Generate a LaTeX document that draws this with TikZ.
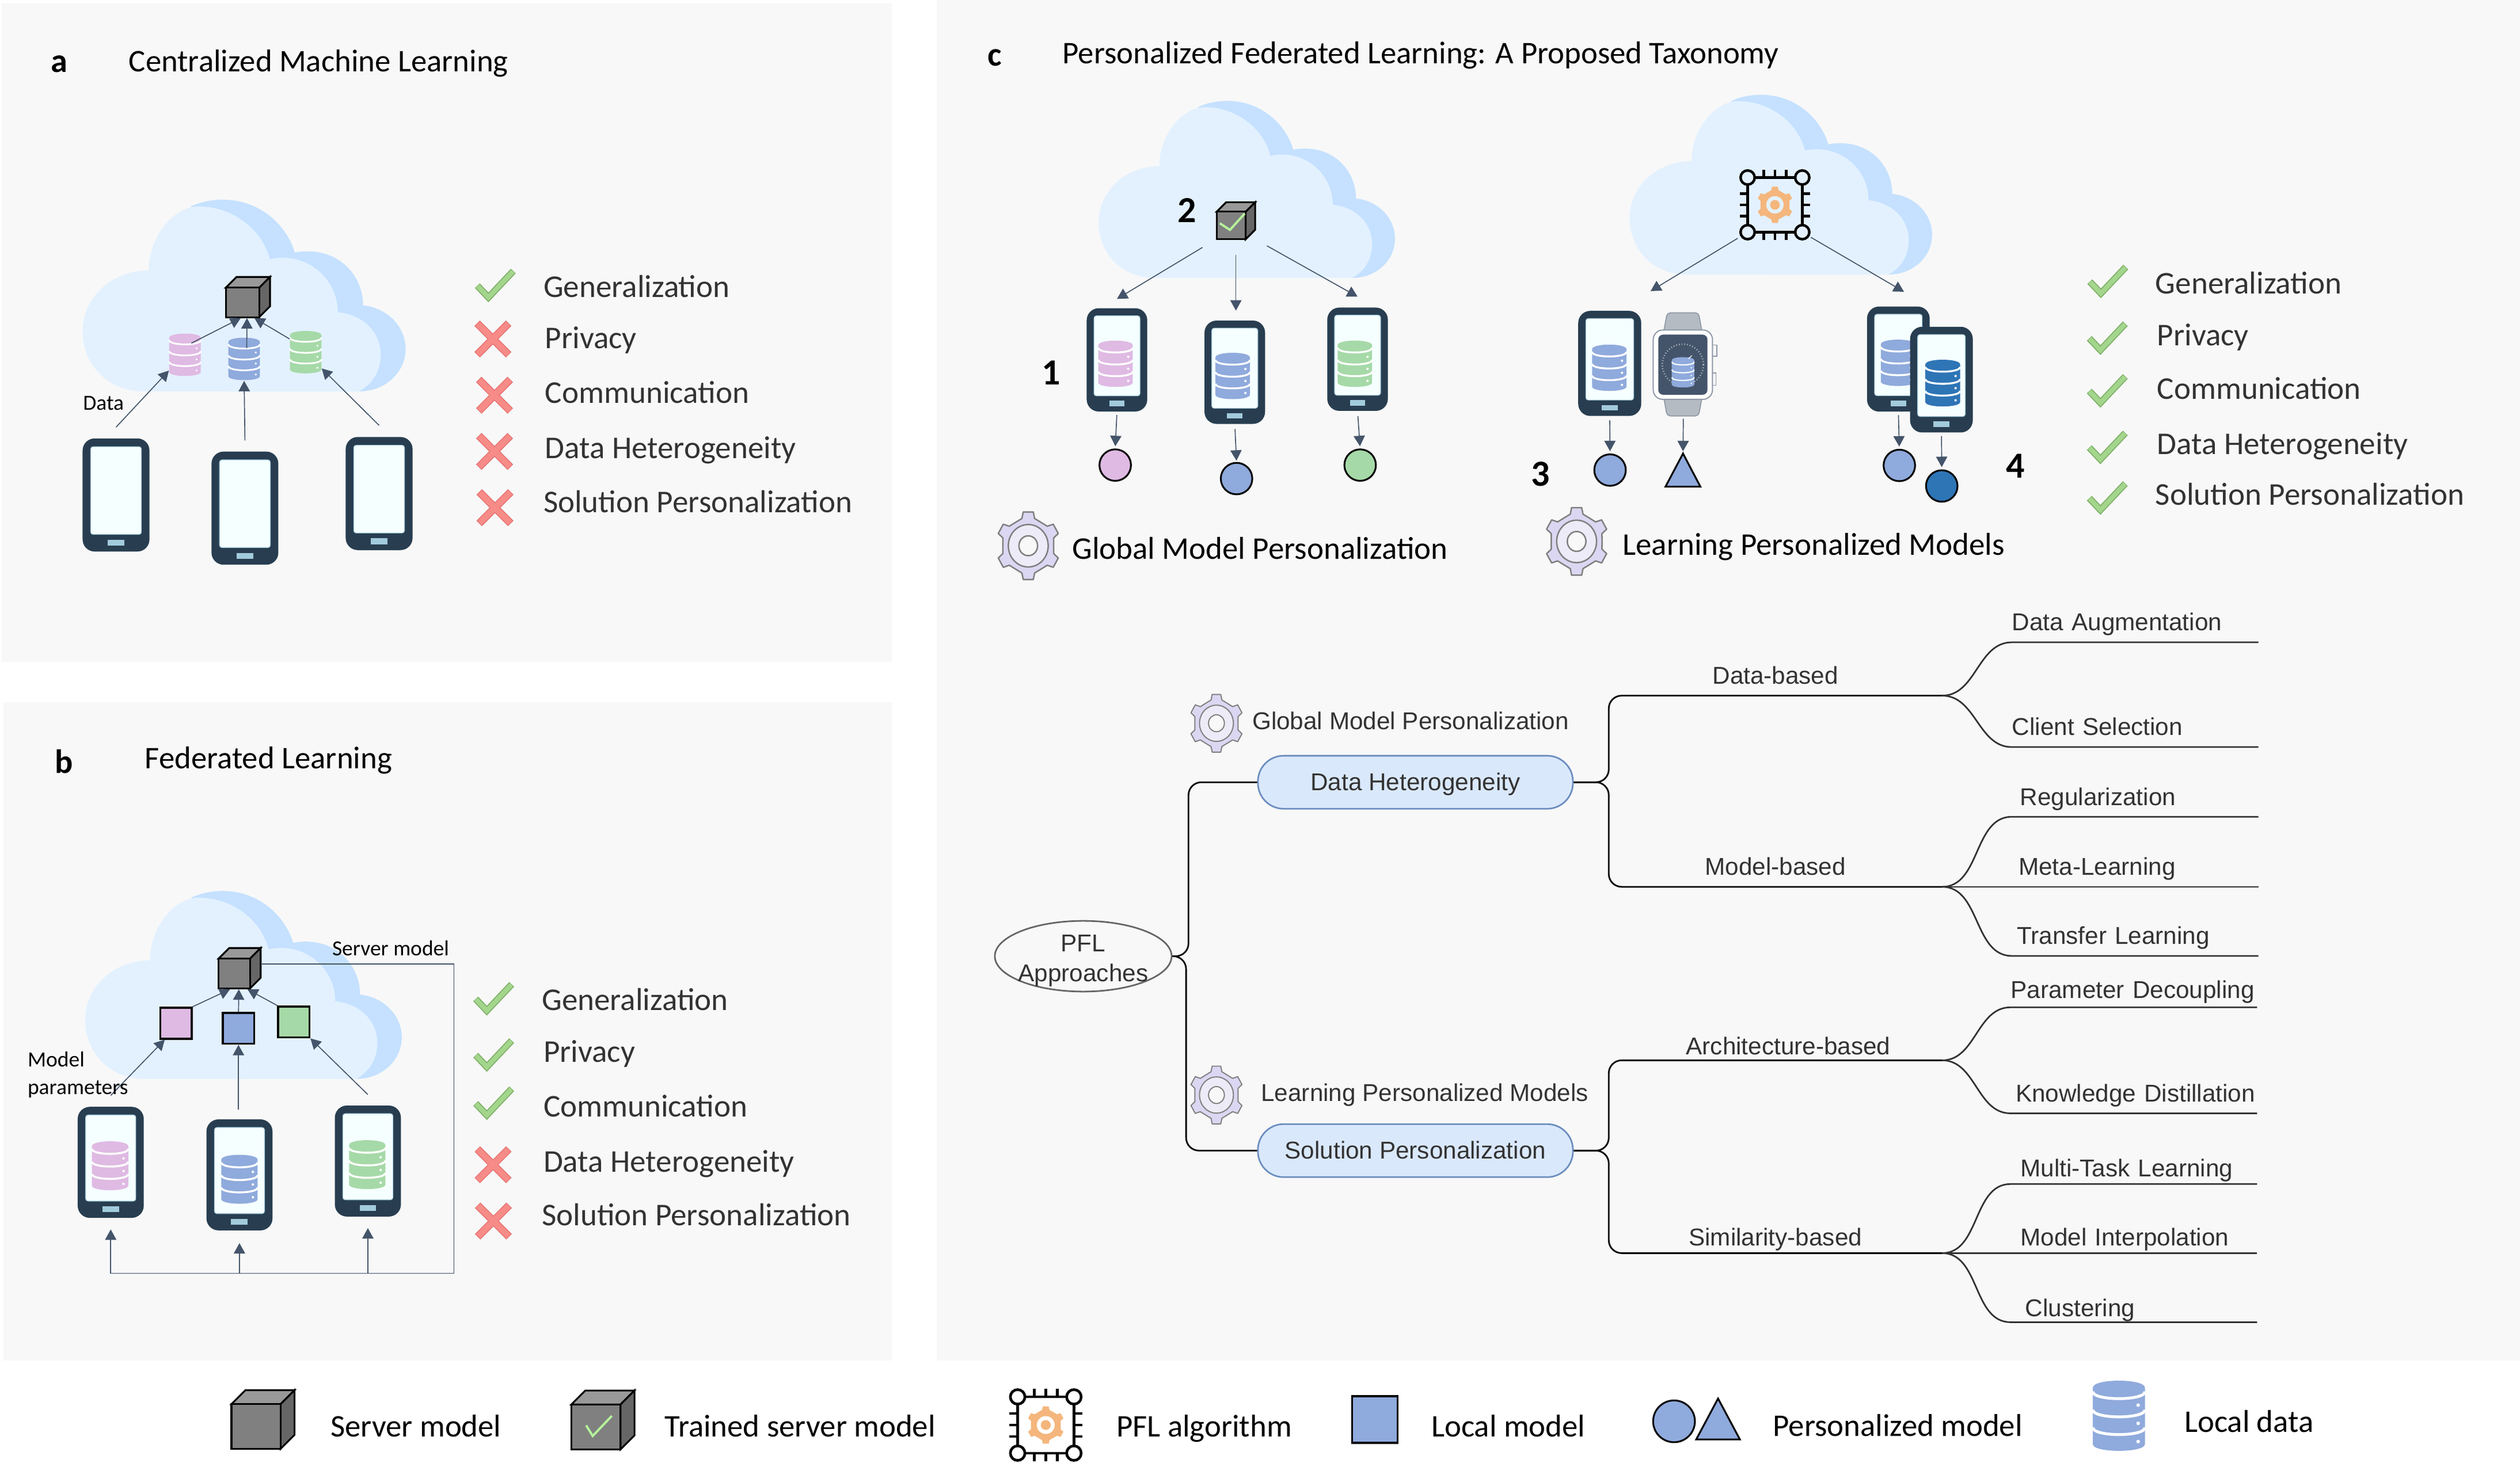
\documentclass[tikz,border=0pt]{standalone}
\usepackage{fontspec}
\setmainfont{Carlito}
\newfontfamily\treefont{Liberation Sans}
\usetikzlibrary{arrows.meta}
\usetikzlibrary{shapes.geometric}

\definecolor{panelbg}{HTML}{F8F8F8}
\definecolor{cloudfront}{HTML}{E3F1FF}
\definecolor{cloudback}{HTML}{C5E1FF}
\definecolor{phonedark}{HTML}{283E50}
\definecolor{phonescreen}{HTML}{F5FFFF}
\definecolor{phonebtn}{HTML}{A2CBDC}
\definecolor{flowcol}{HTML}{44546A}
\definecolor{pinkm}{HTML}{DFBAE3}
\definecolor{bluem}{HTML}{8FAADC}
\definecolor{greenm}{HTML}{A6D9A8}
\definecolor{navym}{HTML}{2E75B6}
\definecolor{txtdark}{HTML}{333333}
\definecolor{pillfill}{HTML}{DAE8FC}
\definecolor{pilldraw}{HTML}{6C8EBF}
\definecolor{orangem}{HTML}{F4B67C}
\definecolor{tickin}{HTML}{A3D68C}
\definecolor{tickout}{HTML}{7FB069}
\definecolor{crossin}{HTML}{F78B87}
\definecolor{crossout}{HTML}{E36F6F}
\definecolor{gearfill}{HTML}{DBD7F2}
\definecolor{gearcore}{HTML}{EDEBF7}
\definecolor{tickglow}{HTML}{B5F29B}

\newcommand{\gearpath}{(76:.82) \foreach \a in {90,150,...,390}{ -- (\a-14:.82) -- (\a-9:1) -- (\a+9:1) -- (\a+14:.82) -- (\a+30:.79)} -- cycle}

\begin{document}
\begin{tikzpicture}[x=1bp,y=-1bp,>={Triangle[length=6.5bp,width=7bp]}]
\tikzset{flow/.style={->,draw=flowcol,line width=.6bp},
  listtxt/.style={anchor=base west,inner sep=0,text=txtdark,font=\fontsize{19.8}{22}\selectfont},
  titletxt/.style={anchor=base west,inner sep=0,font=\fontsize{19.7}{22}\selectfont},
  lettertxt/.style={inner sep=0,font=\bfseries\fontsize{21}{22}\selectfont},
  numtxt/.style={inner sep=0,font=\bfseries\fontsize{23}{24}\selectfont},
  smalltxt/.style={anchor=base west,inner sep=0,font=\fontsize{13.5}{16}\selectfont},
  headtxt/.style={anchor=base west,inner sep=0,font=\fontsize{19.75}{24}\selectfont},
  legtxt/.style={anchor=base west,inner sep=0,font=\fontsize{19.7}{22}\selectfont},
  treetxt/.style={anchor=base west,inner sep=0,text=txtdark,font=\treefont\fontsize{15.2}{19}\selectfont},
  localmodel/.style={draw=black,line width=1.3bp,inner sep=0,minimum width=19.4bp,minimum height=19.2bp},
  persmodel/.style={circle,draw=black,line width=1.1bp,inner sep=0,minimum size=19.6bp},
  phonebody/.style={rectangle,rounded corners=7.5bp,fill=phonedark,inner sep=0},
  pill/.style={rectangle,rounded corners=16bp,fill=pillfill,draw=pilldraw,line width=1bp,inner sep=0,minimum width=196bp,minimum height=33bp,text height=11bp,text depth=1bp,text=txtdark,font=\treefont\fontsize{15.2}{19}\selectfont},
  branch/.style={draw=black,line width=1bp,rounded corners=8bp},
  forkline/.style={draw=txtdark,line width=1bp},
  midtxt/.style={anchor=south west,inner sep=0,minimum width=207bp,text height=11.5bp,text depth=7bp,text=txtdark,font=\treefont\fontsize{15.2}{19}\selectfont},
  leaftxt/.style={anchor=south west,inner sep=0,minimum width=153bp,text width=153bp,align=left,text height=11.5bp,text depth=7bp,text=txtdark,font=\treefont\fontsize{15.2}{19}\selectfont},
  pics/cloud/.style 2 args={code={
    \begin{scope}[xscale=#1/880,yscale=-#2/653]
    \fill[cloudback] (295,630) .. controls (320,645) and (350,653) .. (383,653) .. controls (480,653) and (555,570) .. (578,473) .. controls (590,477) and (603,477) .. (615,477) .. controls (700,477) and (764,395) .. (764,293) .. controls (830,285) and (880,220) .. (880,145) .. controls (880,65) and (825,0) .. (753,0) -- (400,0) -- (400,300) -- cycle;
    \fill[cloudfront] (165,0) .. controls (70,0) and (0,90) .. (0,205) .. controls (0,320) and (80,412) .. (180,412) .. controls (180,530) and (250,630) .. (315,630) .. controls (410,630) and (490,550) .. (510,450) .. controls (525,455) and (535,455) .. (545,455) .. controls (630,455) and (695,370) .. (695,270) .. controls (770,260) and (812,195) .. (812,125) .. controls (812,70) and (790,25) .. (753,0) -- cycle;
    \end{scope}}},
  pics/phone/.style 2 args={code={
    \node[phonebody,minimum width=#1 bp,minimum height=#2 bp] (body) at (0,0) {};
    \filldraw[fill=phonescreen,draw=phonebtn,line width=.4bp,rounded corners=1.5bp] ({-.38*#1},{-.427*#2}) rectangle ({.38*#1},{.349*#2});
    \fill[phonebtn] ({-.126*#1},{.396*#2}) rectangle ({.126*#1},{.448*#2});}},
  pics/dbstack/.style 2 args={code={
    \node[inner sep=0,minimum width=#2 bp,minimum height={1.35*#2*1bp},anchor=north] (box) at (0,0) {};
    \begin{scope}[scale=#2]
    \fill[#1] (-.5,.135) .. controls (-.5,-.045) and (.5,-.045) .. (.5,.135) -- (.5,1.22) .. controls (.5,1.39) and (-.5,1.39) .. (-.5,1.22) -- cycle;
    \draw[white,line width={.055*#2*1bp}] (-.5,.21) .. controls (-.5,.39) and (.5,.39) .. (.5,.21);
    \draw[white,line width={.055*#2*1bp}] (-.5,.56) .. controls (-.5,.74) and (.5,.74) .. (.5,.56);
    \draw[white,line width={.055*#2*1bp}] (-.5,.90) .. controls (-.5,1.08) and (.5,1.08) .. (.5,.90);
    \fill[white] (.37,.47) circle (.035);
    \fill[white] (.37,.82) circle (.035);
    \fill[white] (.37,1.17) circle (.035);
    \end{scope}}},
  pics/cube/.style n args={3}{code={
    \node[inner sep=0,minimum width=#1 bp,minimum height=#2 bp,anchor=south west] (face) at (0,0) {};
    \filldraw[fill=black!40,draw=black,line width=1.1bp] (0,-#2) -- (#3,{-#2-#3}) -- ({#1+#3},{-#2-#3}) -- (#1,-#2) -- cycle;
    \filldraw[fill=black!60,draw=black,line width=1.1bp] (#1,0) -- ({#1+#3},-#3) -- ({#1+#3},{-#2-#3}) -- (#1,-#2) -- cycle;
    \filldraw[fill=black!50,draw=black,line width=1.1bp] (0,0) rectangle (#1,-#2);}},
  pics/tick/.style={code={
    \draw[draw=tickout,line width=4.2bp] (-11,.8) -- (-4.1,8.1) -- (11.4,-8.3);
    \draw[draw=tickin,line width=2.9bp,shorten <=.3bp,shorten >=.3bp] (-11,.8) -- (-4.1,8.1) -- (11.4,-8.3);}},
  pics/cross/.style={code={
    \draw[draw=crossout,line width=4.8bp] (-9.8,-9.8) -- (9.8,9.8);
    \draw[draw=crossout,line width=4.8bp] (-9.8,9.8) -- (9.8,-9.8);
    \draw[draw=crossin,line width=3.8bp,shorten <=.4bp,shorten >=.4bp] (-9.8,-9.8) -- (9.8,9.8);
    \draw[draw=crossin,line width=3.8bp,shorten <=.4bp,shorten >=.4bp] (-9.8,9.8) -- (9.8,-9.8);}},
  pics/gear/.style n args={3}{code={
    \begin{scope}[xscale=#1,yscale=#2]
    \filldraw[fill=gearfill,draw=black!50,line width=#3 bp,line join=round] \gearpath;
    \filldraw[fill=gearcore,draw=black!50,line width=#3 bp] (0,0) circle (.62);
    \filldraw[fill=panelbg,draw=black!50,line width=#3 bp] (0,0) circle (.29);
    \end{scope}}},
  pics/chip/.style 2 args={code={
    \node[inner sep=0,minimum size={34*#1*1bp}] (core) at (0,0) {};
    \begin{scope}[scale=#1,line width={1.6*#1*1bp},draw=black]
    \draw (-17,-17) rectangle (17,17);
    \foreach \p in {-7,0,7}{
      \draw (\p,-17) -- (\p,-22);
      \draw (\p,17) -- (\p,22);
      \draw (-17,\p) -- (-22,\p);
      \draw (17,\p) -- (22,\p);
    }
    \foreach \cx/\cy in {-17/-17,17/-17,17/17,-17/17}{
      \filldraw[fill=#2] (\cx,\cy) circle (4.4);
    }
    \begin{scope}[scale=11.4]
    \fill[orangem,line join=round] \gearpath;
    \end{scope}
    \fill[#2] (0,0) circle (5.4);
    \fill[orangem] (0,0) circle (3);
    \end{scope}}},
  pics/watch/.style={code={
    \filldraw[fill=flowcol!40!white,draw=flowcol!60!white,line width=.6bp,rounded corners=2bp] (-12,-20) -- (-9.8,-32.3) -- (9.8,-32.3) -- (12,-20) -- cycle;
    \filldraw[fill=flowcol!40!white,draw=flowcol!60!white,line width=.6bp,rounded corners=2bp] (-12,20) -- (-9.8,31.9) -- (9.8,31.9) -- (12,20) -- cycle;
    \draw[draw=flowcol!60!white,line width=.5bp,fill=panelbg] (18.4,-12.3) rectangle (21.1,-5.3);
    \draw[draw=flowcol!60!white,line width=.5bp,fill=panelbg] (18.4,5.2) rectangle (20.6,12.8);
    \node[rectangle,rounded corners=6bp,fill=white,draw=flowcol!60!white,line width=.7bp,inner sep=0,minimum width=36.9bp,minimum height=43.2bp] (case) at (0,0) {};
    \fill[flowcol,rounded corners=3bp] (-15.3,-18.7) rectangle (15.3,18.7);
    \draw[draw=white!55!flowcol,line width=1bp,dash pattern=on .5bp off 1.2bp] (0,0) circle (12.8);}}
}

\useasboundingbox (0,0) rectangle (1568,912.8);
\fill[white] (0,0) rectangle (1568,912.8);

% three panels
\fill[panelbg] (1,2) rectangle (555,412);
\fill[panelbg] (2,437) rectangle (555,847);
\fill[panelbg] (583,0) rectangle (1568,847);

% centralized
\node[lettertxt] (la) at (37,40) {a};
\node[titletxt] (ta) at (80,44.5) {Centralized Machine Learning};
\pic at (51.4,243.6) {cloud={201}{119.3}};
\pic (ca) at (140.5,197.4) {cube={20.8}{18.3}{6.7}};
\pic (dba1) at (115.1,207.6) {dbstack={pinkm}{19.6}};
\pic (dba2) at (151.9,210.2) {dbstack={bluem}{19.6}};
\pic (dba3) at (190.2,206) {dbstack={greenm}{19.6}};
\pic (pa1) at (72.2,308.1) {phone={41.6}{70.4}};
\pic (pa2) at (152.4,316.3) {phone={41.6}{70.4}};
\pic (pa3) at (235.9,307.2) {phone={41.6}{70.4}};
\draw[flow] ([shift={(4bp,-6bp)}]dba1box.north) -- ([xshift=-1.3bp,yshift=-.6bp]caface.south);
\draw[flow] ([shift={(1.6bp,-6.6bp)}]dba2box.north) -- ([xshift=2.6bp,yshift=-.6bp]caface.south);
\draw[flow] ([yshift=-5bp]dba3box.north west) -- ([xshift=7.2bp,yshift=-.6bp]caface.south);
\draw[flow] ([yshift=6.8bp]pa1body.north) -- ([yshift=3.8bp]dba1box.south west);
\draw[flow] ([yshift=6.7bp]pa2body.north) -- (dba2box.south);
\draw[flow] ([yshift=7bp]pa3body.north) -- ([yshift=3.5bp]dba3box.south east);
\node[smalltxt] (lbldata) at (51.5,255.3) {Data};
\pic at (308,177) {tick};
\pic at (306.7,211) {cross};
\pic at (307.7,246) {cross};
\pic at (307.7,281) {cross};
\pic at (308,316) {cross};
\node[listtxt] (ga) at (338,185) {Generalization};
\node[listtxt] (ra) at (339,217) {Privacy};
\node[listtxt] (oa) at (339,251) {Communication};
\node[listtxt] (ha) at (339,285.5) {Data Heterogeneity};
\node[listtxt] (sa) at (338,319) {Solution Personalization};

% federated
\node[lettertxt] (lb) at (40,474) {b};
\node[titletxt] (tb) at (90,478.5) {Federated Learning};
\pic at (53,671.6) {cloud={197}{117}};
\pic (cb) at (136,615.2) {cube={19.6}{18.5}{6.6}};
\node[localmodel,fill=pinkm] (mb1) at (109.5,636.9) {};
\node[localmodel,fill=bluem] (mb2) at (148.4,640.1) {};
\node[localmodel,fill=greenm] (mb3) at (182.8,636.1) {};
\pic (pb1) at (68.9,723.5) {phone={41.1}{69.1}};
\pic (pb2) at (149,731.3) {phone={41.1}{69.1}};
\pic (pb3) at (228.9,722.7) {phone={41.1}{69.1}};
\pic at (68.5,710.4) {dbstack={pinkm}{22.6}};
\pic at (149,718.8) {dbstack={bluem}{22.6}};
\pic at (228.5,709.7) {dbstack={greenm}{22.6}};
\draw[flow] (mb1.north east) -- ([xshift=-2.9bp,yshift=-.6bp]cbface.south);
\draw[flow] (mb2.north) -- ([xshift=2.6bp,yshift=-.6bp]cbface.south);
\draw[flow] (mb3.north west) -- ([xshift=8bp,yshift=-.6bp]cbface.south);
\draw[flow] ([yshift=6.9bp]pb1body.north) -- ([xshift=-7bp]mb1.south);
\draw[flow,shorten <=6bp] (pb2body.north -| mb2.south) -- (mb2.south);
\draw[flow] ([yshift=6.6bp]pb3body.north) -- (mb3.south east);
\coordinate (fbs) at (162.4,600);
\coordinate (fbc) at (282.5,792.6);
\draw[flow,shorten >=7bp] (fbs) -| (fbc) -| (pb1body.south);
\draw[flow,shorten >=7.7bp] (pb2body.south |- fbc) -- (pb2body.south);
\draw[flow,shorten >=7bp] (pb3body.south |- fbc) -- (pb3body.south);
\node[smalltxt] (lblsrv) at (206.5,595) {Server model};
\node[smalltxt] (lblmod) at (17,664) {Model};
\node[smalltxt] (lblpar) at (17,681) {parameters};
\pic at (307,621) {tick};
\pic at (307,656) {tick};
\pic at (307,686) {tick};
\pic at (306.8,725) {cross};
\pic at (307,760) {cross};
\node[listtxt] (gb) at (337,629) {Generalization};
\node[listtxt] (rb) at (338,661) {Privacy};
\node[listtxt] (ob) at (338,695) {Communication};
\node[listtxt] (hb) at (338,729.5) {Data Heterogeneity};
\node[listtxt] (sb) at (337,763) {Solution Personalization};

% taxonomy - upper left
\node[lettertxt] (lc) at (619,36) {c};
\node[titletxt] (tc) at (661,39.5) {Personalized Federated Learning: A Proposed Taxonomy};
\pic at (683.6,173) {cloud={184.4}{110.2}};
\pic (cc) at (757,148.9) {cube={18.1}{17.1}{5.9}};
\draw[draw=tickglow,line width=1.4bp] (759,139) -- (765.3,143.1) -- (774.5,132.9);
\node[numtxt] (n2) at (738.7,131) {2};
\node[numtxt] (n1) at (654,232) {1};
\pic (pc1) at (695,224) {phone={37.7}{64.3}};
\pic (pc2) at (768.3,231.7) {phone={37.7}{64.3}};
\pic (pc3) at (844.7,223.6) {phone={37.7}{64.3}};
\pic at (694.1,212) {dbstack={pinkm}{21.4}};
\pic at (767,219.6) {dbstack={bluem}{21.4}};
\pic at (843,212) {dbstack={greenm}{21.4}};
\node[persmodel,fill=pinkm] (rc1) at (693.9,289.5) {};
\node[persmodel,fill=bluem] (rc2) at (769.4,297.9) {};
\node[persmodel,fill=greenm] (rc3) at (846.3,289.5) {};
\coordinate (cs1) at (748.2,154);
\coordinate (cs2) at (769,158.6);
\coordinate (cs3) at (788.3,153);
\draw[flow] (cs1) -- ([yshift=5.6bp]pc1body.north);
\draw[flow,shorten >=6bp] (cs2) -- (pc2body.north -| cs2);
\draw[flow] (cs3) -- ([yshift=6.6bp]pc3body.north);
\draw[flow,shorten <=2bp,shorten >=1.4bp] (pc1body.south) -- (rc1.north);
\draw[flow,shorten <=3bp,shorten >=.8bp] (pc2body.south) -- (rc2.north);
\draw[flow,shorten <=3bp,shorten >=1.4bp] (pc3body.south) -- (rc3.north);
\pic at (639.8,339.7) {gear={20}{21.3}{.9}};
\node[headtxt] (hg) at (667,348) {Global Model Personalization};

% taxonomy - upper right
\pic at (1014,170.9) {cloud={188.2}{111.9}};
\pic (chipc) at (1104.4,127.5) {chip={1}{cloudfront}};
\pic (pd1) at (1001.6,226.2) {phone={39.2}{65.4}};
\pic at (1001.3,214.5) {dbstack={bluem}{21.4}};
\pic (wd) at (1047.1,227) {watch};
\pic at (1047.2,222.3) {dbstack={bluem}{14}};
\draw[white,line width=.5bp] (1050.6,223.3) -- (1052.7,221.3);
\pic (pd3) at (1181.2,223.5) {phone={39}{65.4}};
\pic at (1181,211.4) {dbstack={bluem}{21.4}};
\pic (pd4) at (1208,236.3) {phone={39}{65.8}};
\pic at (1208.8,223.9) {dbstack={navym}{21.6}};
\node[persmodel,fill=bluem] (rd1) at (1001.8,292.6) {};
\filldraw[fill=bluem,draw=black,line width=1.1bp] (1036.3,302.9) -- (1058,302.9) -- (1047.2,282.3) -- cycle;
\coordinate (td) at (1047.2,282.3);
\coordinate (wd) at (1047.4,260.7);
\node[persmodel,fill=bluem] (rd3) at (1181.8,289.7) {};
\node[persmodel,fill=navym] (rd4) at (1208.2,302.5) {};
\coordinate (gl) at (1027,181.2);
\coordinate (gr) at (1184.7,181.6);
\draw[flow,shorten <=7bp] (chipccore.south west) -- (gl);
\draw[flow,shorten <=6bp] (chipccore.south east) -- (gr);
\draw[flow,shorten <=2.5bp,shorten >=1.4bp] (pd1body.south) -- (rd1.north);
\draw[flow,shorten >=1.4bp] (wd) -- (td);
\draw[flow,shorten <=2bp,shorten >=1.4bp] (pd3body.south) -- (rd3.north);
\draw[flow,shorten <=2bp,shorten >=1.4bp] (pd4body.south) -- (rd4.north);
\node[numtxt] (n3) at (958.5,295) {3};
\node[numtxt] (n4) at (1254,290) {4};
\pic at (981,337) {gear={20}{21.3}{.9}};
\node[headtxt] (hl) at (1009.5,345.5) {Learning Personalized Models};
\pic at (1311.3,174.5) {tick};
\pic at (1311,209.8) {tick};
\pic at (1311,242.6) {tick};
\pic at (1311,277.8) {tick};
\pic at (1311,309.3) {tick};
\node[listtxt] (gc) at (1341,183) {Generalization};
\node[listtxt] (rc) at (1342,215) {Privacy};
\node[listtxt] (oc) at (1342,248.5) {Communication};
\node[listtxt] (hc) at (1342,283) {Data Heterogeneity};
\node[listtxt] (sc) at (1341,314.5) {Solution Personalization};

% taxonomy tree
\node[ellipse,draw=black!60,fill=panelbg,line width=1bp,inner sep=0,minimum width=110bp,minimum height=44bp] (pfl) at (674,595.2) {};
\node[inner sep=0,align=center,text=txtdark,font=\treefont\fontsize{15.2}{19}\selectfont] (pfltxt) at (674,598) {PFL\\Approaches};
\node[pill] (dh) at (880.7,486.9) {Data Heterogeneity};
\node[pill] (sp) at (880.7,716.2) {Solution Personalization};
\pic at (756.9,450.2) {gear={17}{18.2}{.7}};
\pic at (756.9,681.6) {gear={17}{18.2}{.7}};
\node[treetxt] (gt1) at (779,454) {Global Model Personalization};
\node[treetxt] (gt2) at (784.5,685.5) {Learning Personalized Models};

\node[midtxt,align=center] (nda) at (1001,433) {Data-based};
\node[midtxt,align=center] (nmo) at (1001,552) {Model-based};
\node[midtxt,align=center,text depth=3.5bp] (nar) at (1001,660) {\hspace{16bp}Architecture-based};
\node[midtxt,align=center,text depth=4.5bp] (nsi) at (1001,780) {Similarity-based};
\node[leaftxt] (lda) at (1251.8,399.8) {Data Augmentation};
\node[leaftxt] (lcs) at (1251.8,465) {Client Selection};
\node[leaftxt] (lrg) at (1251.8,508.4) {\hspace{5bp}Regularization};
\node[leaftxt] (lml) at (1251.8,552) {\hspace{4bp}Meta-Learning};
\node[leaftxt] (ltl) at (1251.8,595) {\hspace{3bp}Transfer Learning};
\node[leaftxt,text depth=5.5bp] (lpd) at (1251,627) {Parameter Decoupling};
\node[leaftxt] (lkd) at (1251,693) {\hspace{3bp}Knowledge Distillation};
\node[leaftxt,text depth=4.5bp] (lmt) at (1251,737) {\hspace{6bp}Multi-Task Learning};
\node[leaftxt,text depth=4.5bp] (lmi) at (1251,780) {\hspace{6bp}Model Interpolation};
\node[leaftxt,text depth=3.5bp] (lcl) at (1251,823) {\hspace{9bp}Clustering};

\draw[branch] (pfl.east) -- ++(10,0) |- (dh.west);
\draw[branch] (pfl.east) -- ++(8.5,0) |- (sp.west);
\draw[branch] (dh.east) -| (nda.south west) -- (nda.south east);
\draw[branch] (dh.east) -| (nmo.south west) -- (nmo.south east);
\draw[branch] (sp.east) -| (nar.south west) -- (nar.south east);
\draw[branch] (sp.east) -| (nsi.south west) -- (nsi.south east);
\draw[forkline] (nda.south east) to[out=0,in=180] (lda.south west) -- (lda.south east);
\draw[forkline] (nda.south east) to[out=0,in=180] (lcs.south west) -- (lcs.south east);
\draw[forkline] (nmo.south east) to[out=0,in=180] (lrg.south west) -- (lrg.south east);
\draw[forkline] (nmo.south east) -- (lml.south west) -- (lml.south east);
\draw[forkline] (nmo.south east) to[out=0,in=180] (ltl.south west) -- (ltl.south east);
\draw[forkline] (nar.south east) to[out=0,in=180] (lpd.south west) -- (lpd.south east);
\draw[forkline] (nar.south east) to[out=0,in=180] (lkd.south west) -- (lkd.south east);
\draw[forkline] (nsi.south east) to[out=0,in=180] (lmt.south west) -- (lmt.south east);
\draw[forkline] (nsi.south east) -- (lmi.south west) -- (lmi.south east);
\draw[forkline] (nsi.south east) to[out=0,in=180] (lcl.south west) -- (lcl.south east);

% legend
\pic at (144,901.8) {cube={30.6}{27.8}{8.7}};
\node[legtxt] (ls1) at (205.5,894.5) {Server model};
\pic at (355.5,902.2) {cube={30.6}{28}{8.7}};
\draw[draw=tickglow,line width=1.4bp] (364.7,887.2) -- (368.8,893.8) -- (380.7,881.3);
\node[legtxt] (ls2) at (413.5,894.5) {Trained server model};
\pic at (650.7,887) {chip={1.03}{white}};
\node[legtxt] (ls3) at (694.5,894.5) {PFL algorithm};
\node[localmodel,fill=bluem,minimum width=28.3bp,minimum height=29bp] (ls4m) at (855.5,883.5) {};
\node[legtxt] (ls4) at (890.5,894.5) {Local model};
\node[persmodel,fill=bluem,minimum size=26bp] (ls5m) at (1041.6,884.7) {};
\filldraw[fill=bluem,draw=black,line width=1.1bp] (1055.4,896) -- (1082.6,896) -- (1069,870.5) -- cycle;
\node[legtxt] (ls5) at (1103,894) {Personalized model};
\pic at (1318.4,859.4) {dbstack={bluem}{32.4}};
\node[legtxt] (ls6) at (1359,891.5) {Local data};
\end{tikzpicture}
\end{document}
